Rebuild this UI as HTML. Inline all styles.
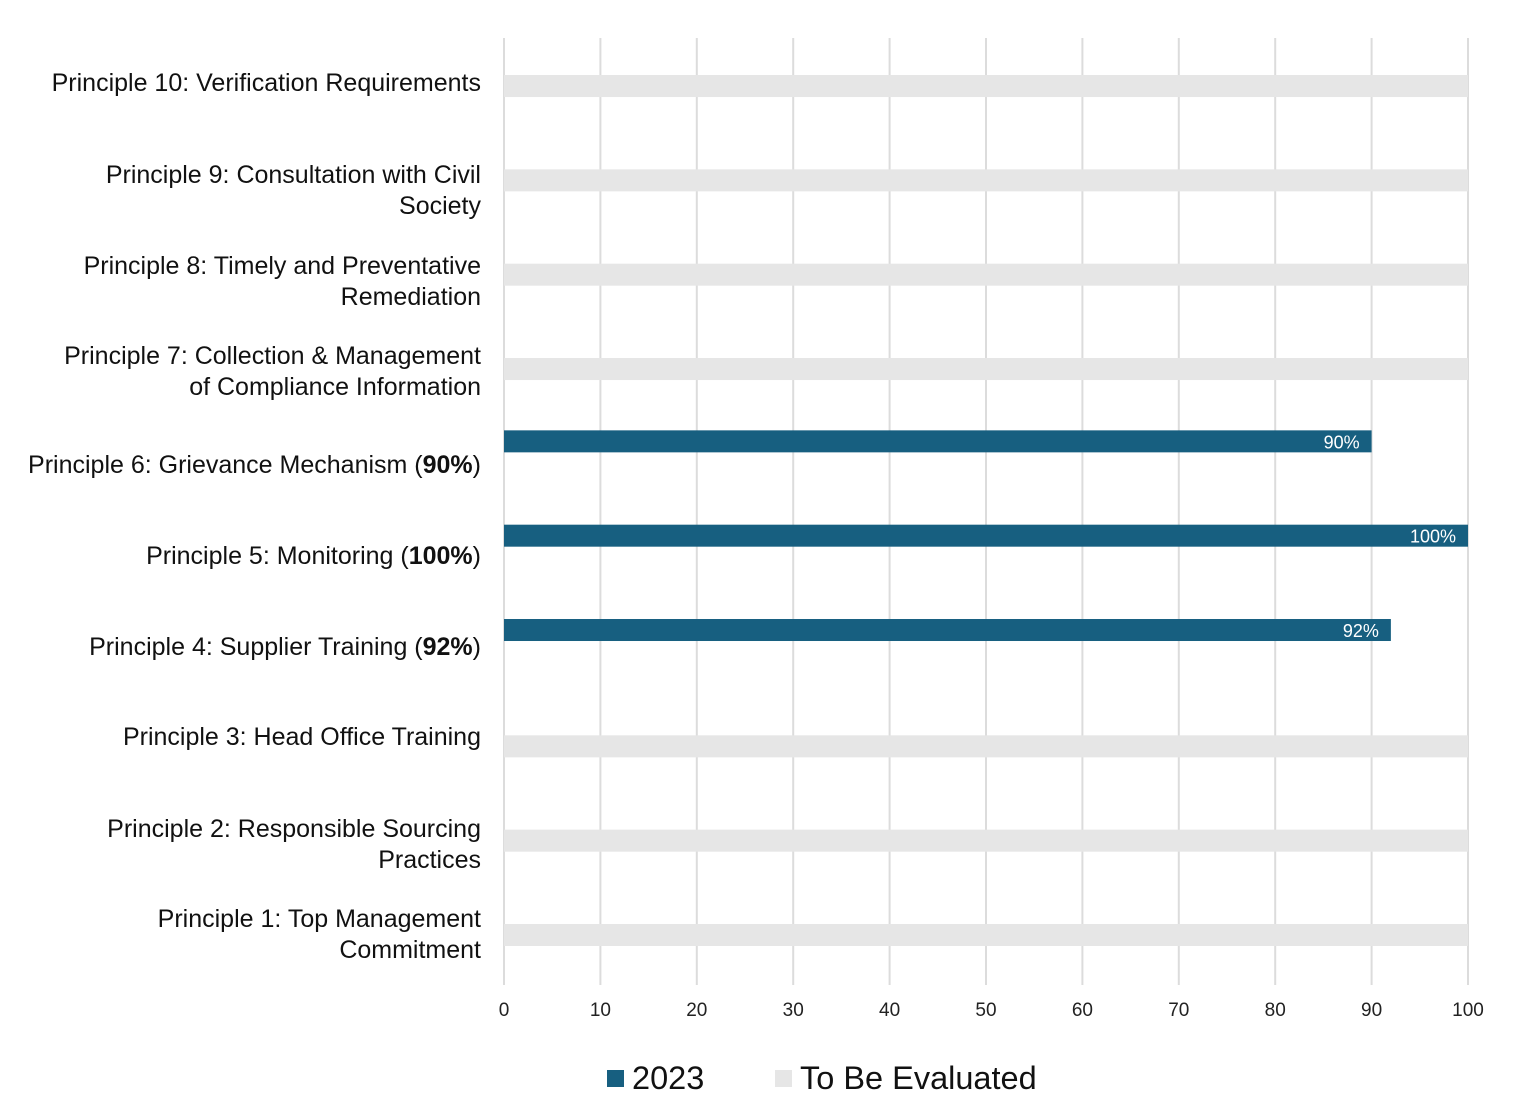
<!DOCTYPE html>
<html><head><meta charset="utf-8"><style>
html,body{margin:0;padding:0;background:#fff;}
svg{display:block;font-family:"Liberation Sans",sans-serif;}
</style></head><body>
<svg id="chart" width="1533" height="1115" viewBox="0 0 1533 1115"></svg>
<script>
const categories=["Principle 1: Top Management|Commitment","Principle 2: Responsible Sourcing|Practices","Principle 3: Head Office Training","Principle 4: Supplier Training (**92%**)","Principle 5: Monitoring (**100%**)","Principle 6: Grievance Mechanism (**90%**)","Principle 7: Collection & Management|of Compliance Information","Principle 8: Timely and Preventative|Remediation","Principle 9: Consultation with Civil|Society","Principle 10: Verification Requirements"];
const values2023=[null,null,null,92,100,90,null,null,null,null];
const valuesTBE=[100,100,100,null,null,null,100,100,100,100];
const valueLabels=["","","","92%","100%","90%","","","",""];
const xTicks=[0,10,20,30,40,50,60,70,80,90,100];

const NS="http://www.w3.org/2000/svg";
const svg=document.getElementById('chart');
const X0=504,X1=1468;
const x=v=>X0+(X1-X0)*v/100;
const yc=i=>935-i*94.33;
const labelCY=[934,844,737,647,556,465,371,281,190,83];
function mk(tag,attrs,parent){const e=document.createElementNS(NS,tag);for(const k in attrs)e.setAttribute(k,attrs[k]);(parent||svg).appendChild(e);return e;}

xTicks.forEach(t=>{
  const g=mk('line',{x1:x(t),x2:x(t),y1:38,y2:985,stroke:'#dcdcdc','stroke-width':2});
  
  
  const tl=mk('text',{x:x(t),y:1016,'text-anchor':'middle','font-size':19,fill:'#222'});
  tl.textContent=t;
  
  
});

categories.forEach((c,i)=>{
  const cy=yc(i);
  if(valuesTBE[i]!=null){
    const r=mk('rect',{x:x(0),y:cy-11,width:x(valuesTBE[i])-x(0),height:22,fill:'#e6e6e6'});
    
    
  }
  if(values2023[i]!=null){
    const r=mk('rect',{x:x(0),y:cy-33,width:x(values2023[i])-x(0),height:22,fill:'#175f80'});
    
    
    const l=mk('text',{x:x(values2023[i])-12,y:cy-15,'text-anchor':'end','font-size':18,fill:'#fff'});
    l.textContent=valueLabels[i];
    
    
  }
  const lines=c.split('|');
  const t=mk('text',{x:481,'text-anchor':'end','font-size':25,fill:'#111'});
  
  
  const lc=labelCY[i];
  const y0 = lines.length===1 ? lc+8 : lc-15+8;
  lines.forEach((ln,j)=>{
    const ts=mk('tspan',{x:481,y:y0+j*31},t);
    const parts=ln.split('**');
    parts.forEach((p,k)=>{const s=mk('tspan',k%2?{'font-weight':'bold'}:{},ts);s.textContent=p;});
  });
});

const lg=[["#175f80","2023",607,"legend-2023"],["#e6e6e6","To Be Evaluated",775,"legend-to-be-evaluated"]];
lg.forEach(([col,txt,lx,nm])=>{
  const r=mk('rect',{x:lx,y:1070,width:17,height:17,fill:col});
  
  
  const t=mk('text',{x:lx+25,y:1089,'font-size':32.5,fill:'#111'});
  t.textContent=txt;
  
  
});
</script>
</body></html>
